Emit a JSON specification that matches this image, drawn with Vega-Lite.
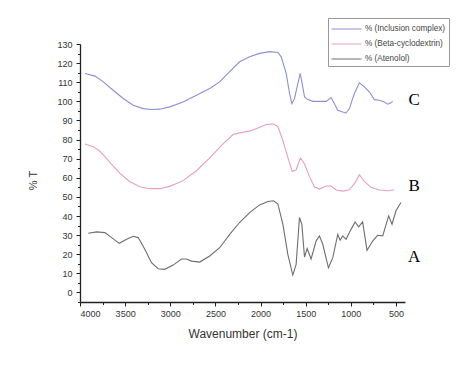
{
  "$schema": "https://vega.github.io/schema/vega-lite/v6.json",
  "width": 325,
  "height": 258,
  "autosize": "none",
  "padding": {"left": 80, "top": 44, "right": 69, "bottom": 63},
  "background": "white",
  "config": {"view": {"stroke": null}, "font": "Liberation Sans"},
  "datasets": {
    "spectra": [
      {"series": "% (Inclusion complex)", "x": 3945, "y": 114.6},
      {"series": "% (Inclusion complex)", "x": 3834, "y": 113.2},
      {"series": "% (Inclusion complex)", "x": 3742, "y": 110.2},
      {"series": "% (Inclusion complex)", "x": 3632, "y": 105.8},
      {"series": "% (Inclusion complex)", "x": 3521, "y": 101.5},
      {"series": "% (Inclusion complex)", "x": 3411, "y": 98},
      {"series": "% (Inclusion complex)", "x": 3300, "y": 96.2},
      {"series": "% (Inclusion complex)", "x": 3208, "y": 95.7},
      {"series": "% (Inclusion complex)", "x": 3116, "y": 95.9},
      {"series": "% (Inclusion complex)", "x": 3005, "y": 97.1},
      {"series": "% (Inclusion complex)", "x": 2858, "y": 99.7},
      {"series": "% (Inclusion complex)", "x": 2710, "y": 103.2},
      {"series": "% (Inclusion complex)", "x": 2563, "y": 106.7},
      {"series": "% (Inclusion complex)", "x": 2453, "y": 110.2},
      {"series": "% (Inclusion complex)", "x": 2342, "y": 115.5},
      {"series": "% (Inclusion complex)", "x": 2232, "y": 120.7},
      {"series": "% (Inclusion complex)", "x": 2121, "y": 123.3},
      {"series": "% (Inclusion complex)", "x": 2011, "y": 125.1},
      {"series": "% (Inclusion complex)", "x": 1900, "y": 126},
      {"series": "% (Inclusion complex)", "x": 1808, "y": 125.6},
      {"series": "% (Inclusion complex)", "x": 1771, "y": 123.3},
      {"series": "% (Inclusion complex)", "x": 1716, "y": 114.6},
      {"series": "% (Inclusion complex)", "x": 1679, "y": 104.1},
      {"series": "% (Inclusion complex)", "x": 1653, "y": 98.8},
      {"series": "% (Inclusion complex)", "x": 1624, "y": 101.5},
      {"series": "% (Inclusion complex)", "x": 1587, "y": 109.3},
      {"series": "% (Inclusion complex)", "x": 1561, "y": 114.6},
      {"series": "% (Inclusion complex)", "x": 1539, "y": 109.3},
      {"series": "% (Inclusion complex)", "x": 1513, "y": 102.3},
      {"series": "% (Inclusion complex)", "x": 1476, "y": 100.9},
      {"series": "% (Inclusion complex)", "x": 1421, "y": 100},
      {"series": "% (Inclusion complex)", "x": 1274, "y": 100},
      {"series": "% (Inclusion complex)", "x": 1218, "y": 102},
      {"series": "% (Inclusion complex)", "x": 1182, "y": 98.8},
      {"series": "% (Inclusion complex)", "x": 1145, "y": 95.3},
      {"series": "% (Inclusion complex)", "x": 1090, "y": 94.4},
      {"series": "% (Inclusion complex)", "x": 1053, "y": 93.9},
      {"series": "% (Inclusion complex)", "x": 1016, "y": 96.2},
      {"series": "% (Inclusion complex)", "x": 961, "y": 104.1},
      {"series": "% (Inclusion complex)", "x": 905, "y": 109.7},
      {"series": "% (Inclusion complex)", "x": 850, "y": 107.6},
      {"series": "% (Inclusion complex)", "x": 795, "y": 105},
      {"series": "% (Inclusion complex)", "x": 740, "y": 100.9},
      {"series": "% (Inclusion complex)", "x": 684, "y": 100.6},
      {"series": "% (Inclusion complex)", "x": 629, "y": 99.7},
      {"series": "% (Inclusion complex)", "x": 592, "y": 98.5},
      {"series": "% (Inclusion complex)", "x": 555, "y": 99.2},
      {"series": "% (Inclusion complex)", "x": 537, "y": 100},
      {"series": "% (Beta-cyclodextrin)", "x": 3945, "y": 77.7},
      {"series": "% (Beta-cyclodextrin)", "x": 3853, "y": 76.3},
      {"series": "% (Beta-cyclodextrin)", "x": 3779, "y": 73.9},
      {"series": "% (Beta-cyclodextrin)", "x": 3668, "y": 68.1},
      {"series": "% (Beta-cyclodextrin)", "x": 3558, "y": 62.3},
      {"series": "% (Beta-cyclodextrin)", "x": 3447, "y": 57.9},
      {"series": "% (Beta-cyclodextrin)", "x": 3337, "y": 55.3},
      {"series": "% (Beta-cyclodextrin)", "x": 3226, "y": 54.3},
      {"series": "% (Beta-cyclodextrin)", "x": 3116, "y": 54.3},
      {"series": "% (Beta-cyclodextrin)", "x": 3005, "y": 55.5},
      {"series": "% (Beta-cyclodextrin)", "x": 2858, "y": 58.5},
      {"series": "% (Beta-cyclodextrin)", "x": 2710, "y": 63.7},
      {"series": "% (Beta-cyclodextrin)", "x": 2563, "y": 70.4},
      {"series": "% (Beta-cyclodextrin)", "x": 2416, "y": 77.7},
      {"series": "% (Beta-cyclodextrin)", "x": 2305, "y": 82.6},
      {"series": "% (Beta-cyclodextrin)", "x": 2232, "y": 83.5},
      {"series": "% (Beta-cyclodextrin)", "x": 2121, "y": 84.4},
      {"series": "% (Beta-cyclodextrin)", "x": 2029, "y": 86.1},
      {"series": "% (Beta-cyclodextrin)", "x": 1937, "y": 87.9},
      {"series": "% (Beta-cyclodextrin)", "x": 1863, "y": 88.2},
      {"series": "% (Beta-cyclodextrin)", "x": 1808, "y": 86.8},
      {"series": "% (Beta-cyclodextrin)", "x": 1753, "y": 79.5},
      {"series": "% (Beta-cyclodextrin)", "x": 1698, "y": 70.7},
      {"series": "% (Beta-cyclodextrin)", "x": 1650, "y": 63.4},
      {"series": "% (Beta-cyclodextrin)", "x": 1606, "y": 64.1},
      {"series": "% (Beta-cyclodextrin)", "x": 1558, "y": 70.4},
      {"series": "% (Beta-cyclodextrin)", "x": 1513, "y": 67.2},
      {"series": "% (Beta-cyclodextrin)", "x": 1458, "y": 60.6},
      {"series": "% (Beta-cyclodextrin)", "x": 1403, "y": 55.3},
      {"series": "% (Beta-cyclodextrin)", "x": 1348, "y": 54.1},
      {"series": "% (Beta-cyclodextrin)", "x": 1274, "y": 55.7},
      {"series": "% (Beta-cyclodextrin)", "x": 1218, "y": 55.7},
      {"series": "% (Beta-cyclodextrin)", "x": 1163, "y": 53.6},
      {"series": "% (Beta-cyclodextrin)", "x": 1090, "y": 53},
      {"series": "% (Beta-cyclodextrin)", "x": 1016, "y": 53.7},
      {"series": "% (Beta-cyclodextrin)", "x": 950, "y": 57.6},
      {"series": "% (Beta-cyclodextrin)", "x": 905, "y": 61.6},
      {"series": "% (Beta-cyclodextrin)", "x": 850, "y": 58.1},
      {"series": "% (Beta-cyclodextrin)", "x": 777, "y": 55},
      {"series": "% (Beta-cyclodextrin)", "x": 684, "y": 53.6},
      {"series": "% (Beta-cyclodextrin)", "x": 592, "y": 53.2},
      {"series": "% (Beta-cyclodextrin)", "x": 519, "y": 53.7},
      {"series": "% (Atenolol)", "x": 3908, "y": 31},
      {"series": "% (Atenolol)", "x": 3816, "y": 31.7},
      {"series": "% (Atenolol)", "x": 3724, "y": 31.3},
      {"series": "% (Atenolol)", "x": 3650, "y": 28.7},
      {"series": "% (Atenolol)", "x": 3565, "y": 25.7},
      {"series": "% (Atenolol)", "x": 3484, "y": 27.8},
      {"series": "% (Atenolol)", "x": 3411, "y": 29.4},
      {"series": "% (Atenolol)", "x": 3355, "y": 28.7},
      {"series": "% (Atenolol)", "x": 3282, "y": 22.6},
      {"series": "% (Atenolol)", "x": 3208, "y": 15.6},
      {"series": "% (Atenolol)", "x": 3134, "y": 12.4},
      {"series": "% (Atenolol)", "x": 3061, "y": 12.1},
      {"series": "% (Atenolol)", "x": 2968, "y": 14.3},
      {"series": "% (Atenolol)", "x": 2876, "y": 17.5},
      {"series": "% (Atenolol)", "x": 2821, "y": 17.5},
      {"series": "% (Atenolol)", "x": 2766, "y": 16.4},
      {"series": "% (Atenolol)", "x": 2674, "y": 15.9},
      {"series": "% (Atenolol)", "x": 2563, "y": 19.1},
      {"series": "% (Atenolol)", "x": 2453, "y": 23.4},
      {"series": "% (Atenolol)", "x": 2342, "y": 30.4},
      {"series": "% (Atenolol)", "x": 2232, "y": 36.6},
      {"series": "% (Atenolol)", "x": 2121, "y": 41.8},
      {"series": "% (Atenolol)", "x": 2011, "y": 45.8},
      {"series": "% (Atenolol)", "x": 1919, "y": 47.6},
      {"series": "% (Atenolol)", "x": 1856, "y": 48},
      {"series": "% (Atenolol)", "x": 1808, "y": 46.2},
      {"series": "% (Atenolol)", "x": 1753, "y": 35.7},
      {"series": "% (Atenolol)", "x": 1698, "y": 19.9},
      {"series": "% (Atenolol)", "x": 1643, "y": 9.1},
      {"series": "% (Atenolol)", "x": 1606, "y": 14.7},
      {"series": "% (Atenolol)", "x": 1569, "y": 39.2},
      {"series": "% (Atenolol)", "x": 1543, "y": 35.7},
      {"series": "% (Atenolol)", "x": 1513, "y": 18.5},
      {"series": "% (Atenolol)", "x": 1484, "y": 23},
      {"series": "% (Atenolol)", "x": 1440, "y": 17.5},
      {"series": "% (Atenolol)", "x": 1384, "y": 27},
      {"series": "% (Atenolol)", "x": 1348, "y": 29.6},
      {"series": "% (Atenolol)", "x": 1311, "y": 25.2},
      {"series": "% (Atenolol)", "x": 1248, "y": 12.9},
      {"series": "% (Atenolol)", "x": 1200, "y": 18.2},
      {"series": "% (Atenolol)", "x": 1145, "y": 30.4},
      {"series": "% (Atenolol)", "x": 1119, "y": 27.3},
      {"series": "% (Atenolol)", "x": 1090, "y": 29.6},
      {"series": "% (Atenolol)", "x": 1053, "y": 27.8},
      {"series": "% (Atenolol)", "x": 998, "y": 33},
      {"series": "% (Atenolol)", "x": 953, "y": 36.9},
      {"series": "% (Atenolol)", "x": 913, "y": 34.3},
      {"series": "% (Atenolol)", "x": 869, "y": 36.9},
      {"series": "% (Atenolol)", "x": 821, "y": 22},
      {"series": "% (Atenolol)", "x": 758, "y": 26.9},
      {"series": "% (Atenolol)", "x": 703, "y": 29.9},
      {"series": "% (Atenolol)", "x": 647, "y": 29.6},
      {"series": "% (Atenolol)", "x": 581, "y": 40.1},
      {"series": "% (Atenolol)", "x": 544, "y": 35.7},
      {"series": "% (Atenolol)", "x": 500, "y": 42.7},
      {"series": "% (Atenolol)", "x": 445, "y": 47.1}
    ],
    "labels": [
      {"label": "C", "x": 298, "y": 100.5},
      {"label": "B", "x": 298, "y": 55.7},
      {"label": "A", "x": 298, "y": 18.8}
    ]
  },
  "resolve": {"axis": {"x": "independent", "y": "independent"}},
  "layer": [
    {
      "data": {"name": "spectra"},
      "mark": {"type": "line", "strokeWidth": 1.1, "clip": true},
      "encoding": {
        "x": {
          "field": "x", "type": "quantitative",
          "scale": {"domain": [4000, 400], "nice": false, "zero": false},
          "axis": {
            "orient": "bottom",
            "title": "Wavenumber (cm-1)",
            "format": "d",
            "values": [4000, 3500, 3000, 2500, 2000, 1500, 1000, 500],
            "grid": false,
            "domainColor": "#222", "domainWidth": 1.3,
            "tickColor": "#222", "tickSize": 4, "tickWidth": 1,
            "labelFontSize": 9, "labelColor": "#333", "labelPadding": 3,
            "titleFontSize": 12, "titleFontWeight": "normal", "titleColor": "#333",
            "titleY": 31, "titleBaseline": "middle"
          }
        },
        "y": {
          "field": "y", "type": "quantitative",
          "scale": {"domain": [-5, 130], "nice": false, "zero": false},
          "axis": {
            "orient": "left",
            "title": "% T",
            "format": "d",
            "values": [0, 10, 20, 30, 40, 50, 60, 70, 80, 90, 100, 110, 120, 130],
            "grid": false,
            "domainColor": "#222", "domainWidth": 1.3,
            "tickColor": "#222", "tickSize": 4, "tickWidth": 1,
            "labelFontSize": 9, "labelColor": "#333", "labelPadding": 4,
            "titleFontSize": 11, "titleFontWeight": "normal", "titleColor": "#333",
            "titleX": -47, "titleY": 136, "titleAlign": "center", "titleBaseline": "middle", "titleAngle": -90
          }
        },
        "color": {
          "field": "series", "type": "nominal",
          "scale": {
            "domain": ["% (Inclusion complex)", "% (Beta-cyclodextrin)", "% (Atenolol)"],
            "range": ["#8b8fd6", "#e8a0b4", "#6e6e6e"]
          },
          "legend": {
            "title": null,
            "orient": "none",
            "legendX": 248,
            "legendY": -26,
            "direction": "vertical",
            "symbolType": "M-1,0H3",
            "symbolSize": 225,
            "symbolStrokeWidth": 1,
            "labelFontSize": 8.2,
            "labelColor": "#444",
            "rowPadding": 3,
            "padding": 3,
            "strokeColor": "#999",
            "fillColor": "white",
            "labelOffset": 18
          }
        }
      }
    },
    {
      "data": {"name": "labels"},
      "mark": {"type": "text", "font": "Liberation Serif", "fontSize": 17, "color": "black", "clip": false, "baseline": "middle", "align": "center"},
      "encoding": {
        "x": {
          "field": "x", "type": "quantitative",
          "axis": {
            "orient": "bottom", "title": null, "labels": false, "domain": false, "grid": false,
            "values": [3750, 3250, 2750, 2250, 1750, 1250, 750],
            "tickSize": 2.5, "tickColor": "#222", "tickWidth": 1
          }
        },
        "y": {
          "field": "y", "type": "quantitative",
          "axis": {
            "orient": "left", "title": null, "labels": false, "domain": false, "grid": false,
            "values": [-5, 5, 15, 25, 35, 45, 55, 65, 75, 85, 95, 105, 115, 125],
            "tickSize": 2.5, "tickColor": "#222", "tickWidth": 1
          }
        },
        "text": {"field": "label", "type": "nominal"}
      }
    }
  ]
}
